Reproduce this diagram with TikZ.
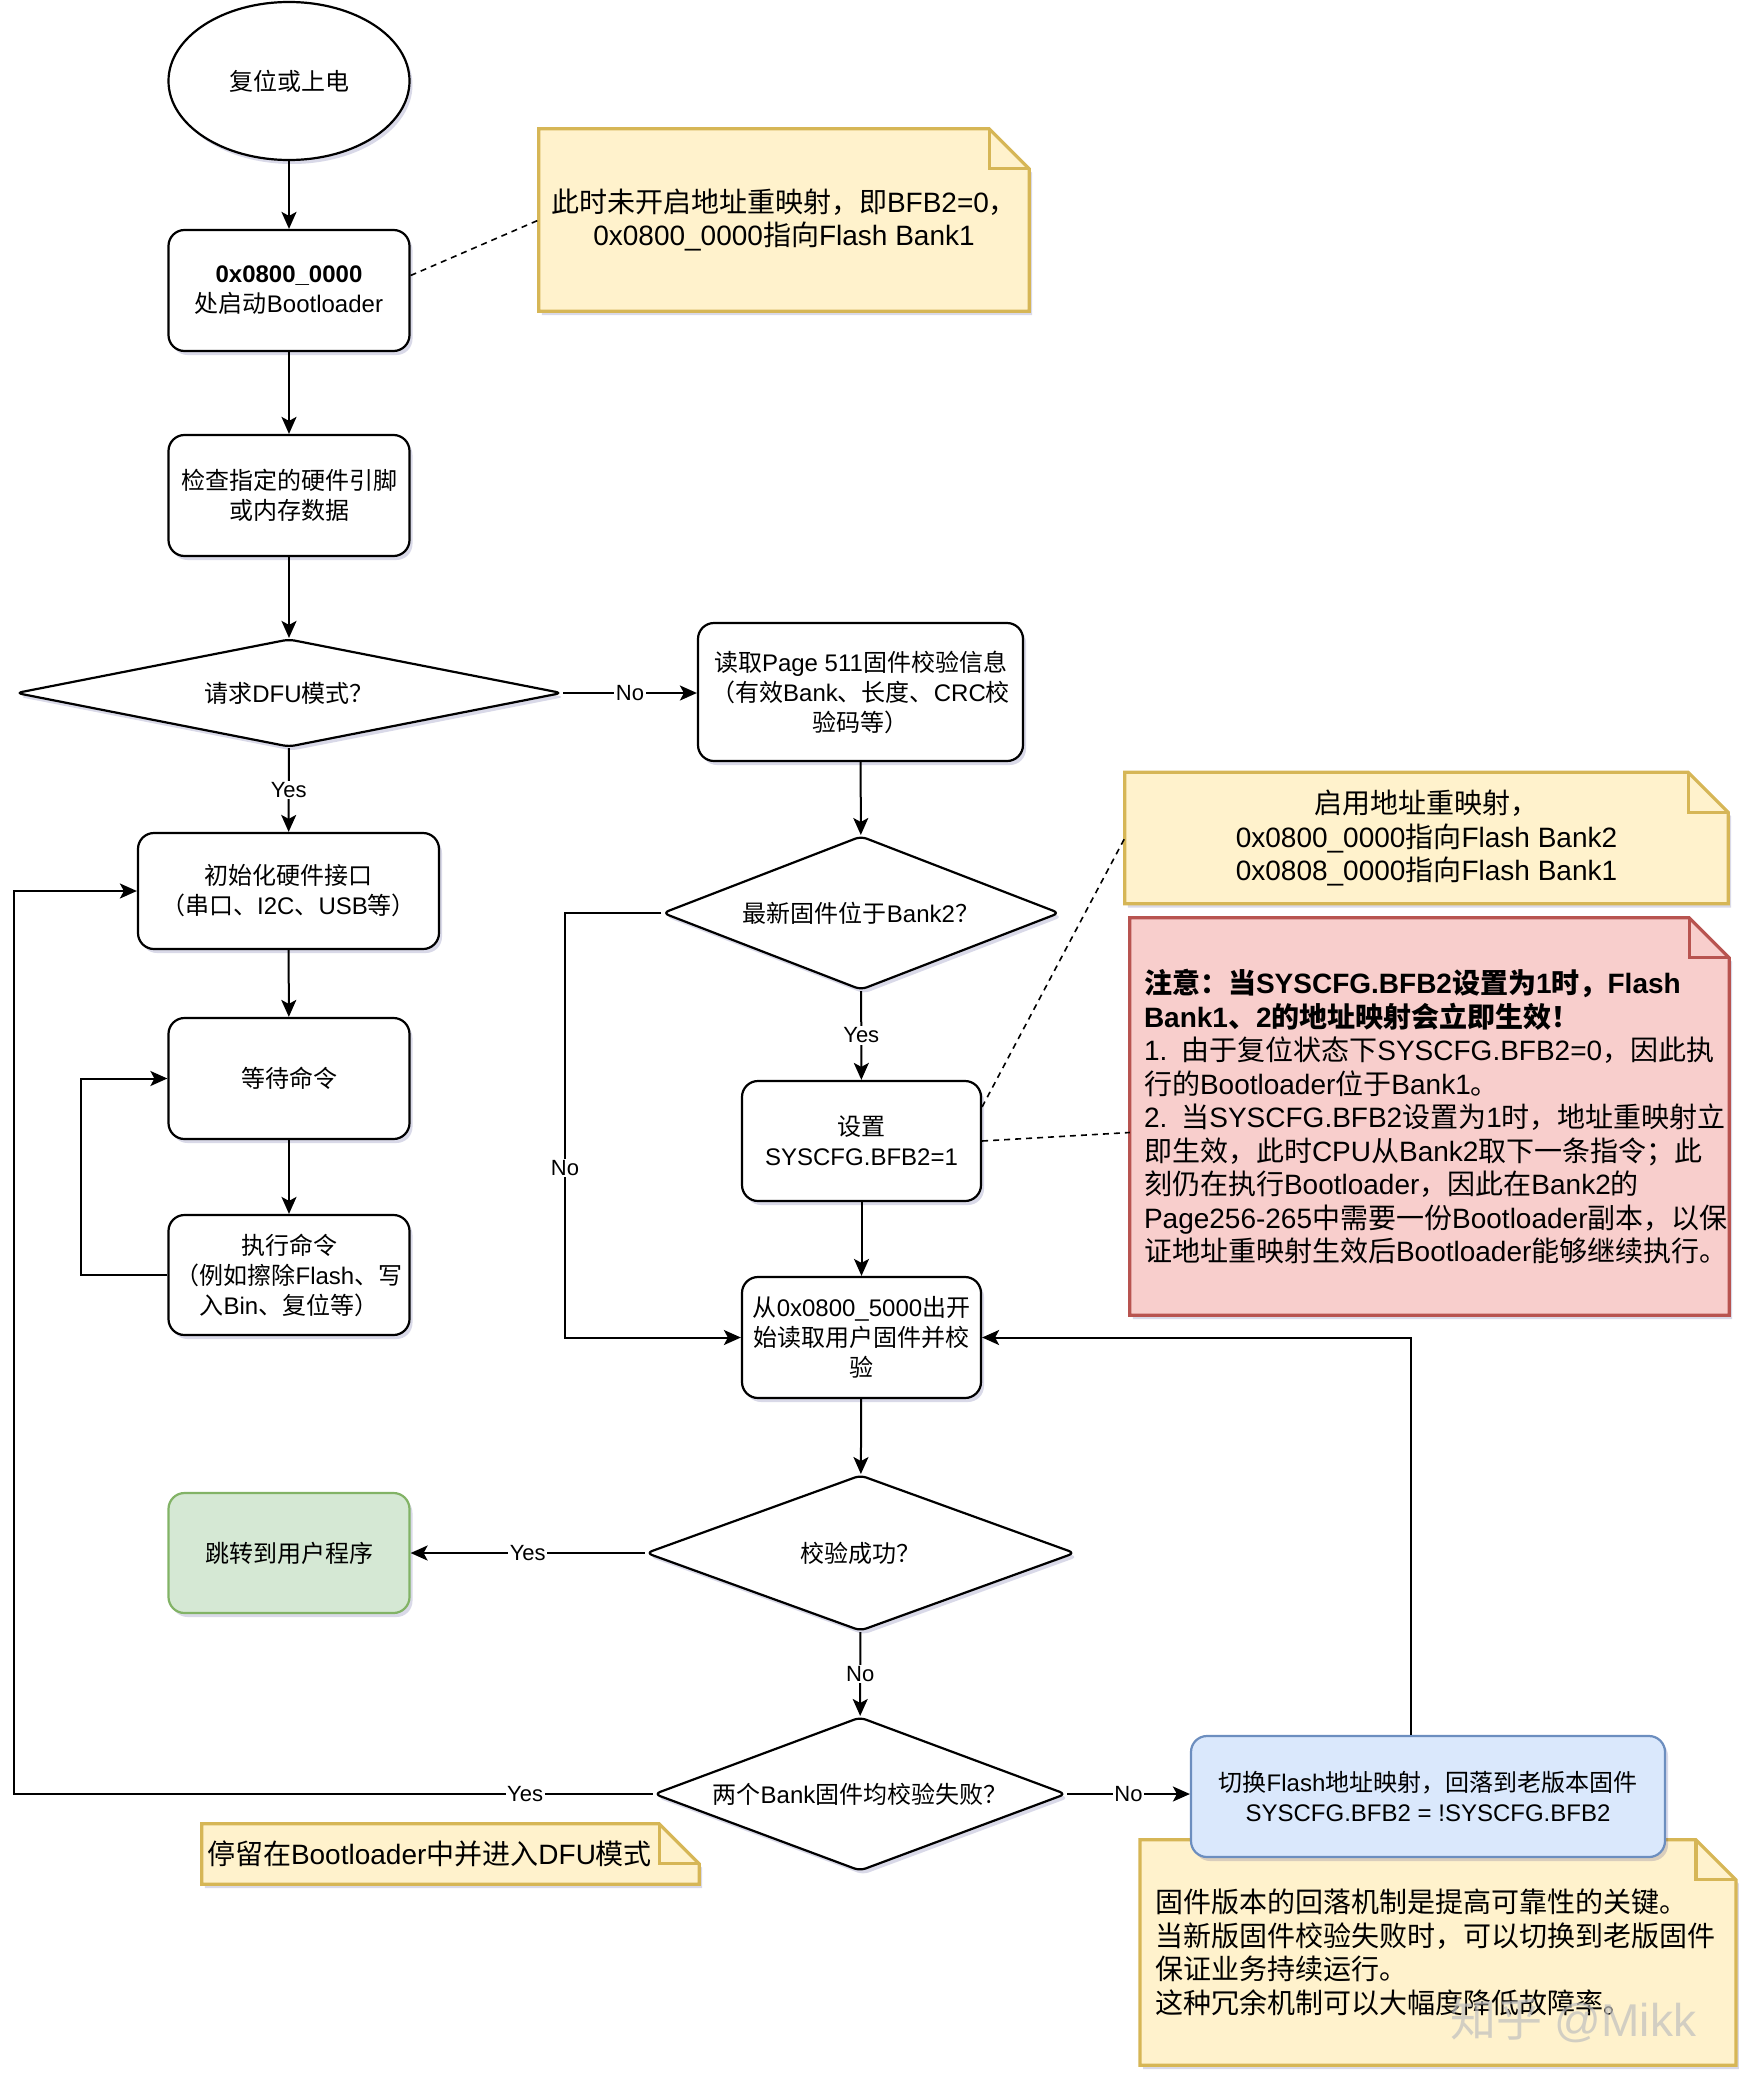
\documentclass[tikz,border=0pt]{standalone}
\usepackage{fontspec}
\setmainfont{Liberation Sans}
\newfontfamily\cjk{Noto Sans CJK SC}
\newfontfamily\lat{Liberation Sans}
\XeTeXinterchartokenstate=1
\newXeTeXintercharclass\CJKcls
\newcount\cjkcnt
\def\setcjkrange#1#2{\cjkcnt=#1\relax\loop\XeTeXcharclass\cjkcnt=\CJKcls\relax\ifnum\cjkcnt<#2\advance\cjkcnt by 1\repeat}
\setcjkrange{"3000}{"303F}
\setcjkrange{"4E00}{"9FFF}
\setcjkrange{"FF00}{"FFEF}
\XeTeXinterchartoks 0 \CJKcls = {\cjk}
\XeTeXinterchartoks 4095 \CJKcls = {\cjk}
\XeTeXinterchartoks \CJKcls 0 = {\lat}
\XeTeXinterchartoks \CJKcls 4095 = {\lat}
\usetikzlibrary{shapes.geometric,arrows.meta,calc,backgrounds,shadows}
\definecolor{noteY}{HTML}{FFF2CC}
\definecolor{noteYs}{HTML}{D6B656}
\definecolor{noteR}{HTML}{F8CECC}
\definecolor{noteRs}{HTML}{B85450}
\definecolor{boxG}{HTML}{D5E8D4}
\definecolor{boxGs}{HTML}{82B366}
\definecolor{boxB}{HTML}{DAE8FC}
\definecolor{boxBs}{HTML}{6C8EBF}
\tikzset{
  shad/.style={drop shadow={shadow xshift=3pt, shadow yshift=-4pt, fill=black!60!blue, opacity=0.15}},
  base/.style={draw=black, line width=2.2pt, fill=white, align=center,
    font=\fontsize{24}{30}\selectfont, inner sep=0pt, shad},
  box/.style={base, rectangle, rounded corners=16pt},
  dec/.style={base, diamond, rounded corners=6pt},
  conn/.style={line width=2pt, -{Stealth[length=17pt,width=15pt,inset=4pt]}},
  lbl/.style={fill=white, font=\fontsize{22}{24}\selectfont, inner sep=1.5pt},
  dsh/.style={line width=1.6pt, dash pattern=on 6pt off 5pt},
  notetxt/.style={font=\fontsize{28}{33.5}\selectfont, inner sep=0pt},
}
\newcommand\notefold[3]{%
  \draw[line width=3.2pt, draw=#3, fill=#2, line join=miter, shad]
    (#1.north west) -- ($(#1.north east)+(-40,0)$) -- ($(#1.north east)+(0,40)$)
    -- (#1.south east) -- (#1.south west) -- cycle;
  \draw[line width=3.2pt, draw=#3, line join=miter]
    ($(#1.north east)+(-40,0)$) -- ($(#1.north east)+(-40,40)$) -- ($(#1.north east)+(0,40)$);
}
\begin{document}
\begin{tikzpicture}[x=1pt,y=-1pt]
\useasboundingbox (0,0) rectangle (1762,2090);

% left column
\node[base, ellipse, minimum width=241pt, minimum height=158pt] (start) at (289,81) {复位或上电};
\node[box, minimum width=241pt, minimum height=121pt] (b1) at (289,290.5) {\textbf{0x0800\_0000}\\处启动Bootloader};
\node[box, minimum width=241pt, minimum height=121pt] (b2) at (289,495.5) {检查指定的硬件引脚\\或内存数据};
\node[dec, aspect=5.05, minimum width=546pt, minimum height=108pt] (d1) at (289,693) {请求DFU模式？};
\node[box, minimum width=301pt, minimum height=116pt] (init) at (288.5,891) {初始化硬件接口\\（串口、I2C、USB等）};
\node[box, minimum width=241pt, minimum height=121pt] (wait) at (289,1078.5) {等待命令};
\node[box, minimum width=241pt, minimum height=120pt] (exec) at (289,1275) {执行命令\\（例如擦除Flash、写\\入Bin、复位等）};
\node[box, fill=boxG, draw=boxGs, minimum width=241pt, minimum height=120pt] (jump) at (289,1553) {跳转到用户程序};

% middle column
\node[box, minimum width=325pt, minimum height=138pt] (rd) at (860.5,692) {读取Page 511固件校验信息\\（有效Bank、长度、CRC校\\验码等）};
\node[dec, aspect=2.58, minimum width=397pt, minimum height=154pt] (d2) at (861,913) {最新固件位于Bank2？};
\node[box, minimum width=239pt, minimum height=120pt] (setb) at (861.5,1141) {设置\\SYSCFG.BFB2=1};
\node[box, minimum width=239pt, minimum height=121pt] (verify) at (861.5,1337.5) {从0x0800\_5000出开\\始读取用户固件并校\\验};
\node[dec, aspect=2.75, minimum width=429pt, minimum height=156pt] (d3) at (860.5,1553) {校验成功？};
\node[dec, aspect=2.68, minimum width=412pt, minimum height=154pt] (d4) at (860,1794) {两个Bank固件均校验失败？};

% notes
\node[notetxt, minimum width=490pt, minimum height=182pt, align=center] (n1) at (784,220)
  {此时未开启地址重映射，即BFB2=0，\\0x0800\_0000指向Flash Bank1};
\node[notetxt, minimum width=603pt, minimum height=131pt, align=center] (n2) at (1426.5,838)
  {启用地址重映射，\\0x0800\_0000指向Flash Bank2\\0x0808\_0000指向Flash Bank1};
\node[notetxt, minimum width=599pt, minimum height=397pt, text width=571pt, align=left] (n3) at (1429.5,1116.5)
  {\textbf{\mbox{注意：当SYSCFG.BFB2设置为1时，Flash}}\\
   \textbf{\mbox{Bank1、2的地址映射会立即生效！}}\\
   \mbox{1. 由于复位状态下SYSCFG.BFB2=0，因此执}\\
   \mbox{行的Bootloader位于Bank1。}\\
   \mbox{2. 当SYSCFG.BFB2设置为1时，地址重映射立}\\
   \mbox{即生效，此时CPU从Bank2取下一条指令；此}\\
   \mbox{刻仍在执行Bootloader，因此在Bank2的}\\
   \mbox{Page256-265中需要一份Bootloader副本，以保}\\
   \mbox{证地址重映射生效后Bootloader能够继续执行。}};
\node[notetxt, minimum width=497pt, minimum height=60pt, text width=487pt, align=left] (n4) at (450.5,1854)
  {\mbox{停留在Bootloader中并进入DFU模式}};
\node[notetxt, minimum width=595.5pt, minimum height=225pt, text width=565pt, align=left] (n5) at (1438,1952.5)
  {\mbox{固件版本的回落机制是提高可靠性的关键。}\\
   \mbox{当新版固件校验失败时，可以切换到老版固件}\\
   \mbox{保证业务持续运行。}\\
   \mbox{这种冗余机制可以大幅度降低故障率。}};

\begin{scope}[on background layer]
  \notefold{n1}{noteY}{noteYs}
  \notefold{n2}{noteY}{noteYs}
  \notefold{n3}{noteR}{noteRs}
  \notefold{n4}{noteY}{noteYs}
  \notefold{n5}{noteY}{noteYs}
\end{scope}

% switch box (on top of bottom note)
\node[box, fill=boxB, draw=boxBs, minimum width=474pt, minimum height=121pt] (sw) at (1428,1796.5)
  {切换Flash地址映射，回落到老版本固件\\SYSCFG.BFB2 = !SYSCFG.BFB2};

% connectors
\coordinate (nl) at (565,913);
\coordinate (oc) at (14,1300);
\draw[conn] (start) -- (b1);
\draw[conn] (b1) -- (b2);
\draw[conn] (b2) -- (d1);
\draw[conn] (d1.east) -- node[lbl]{No} (d1.east -| rd.west);
\draw[conn] (d1) -- node[lbl]{Yes} (init);
\draw[conn] (init) -- (wait);
\draw[conn] (wait) -- (exec);
\draw[conn] (exec.west) -- ++(-86,0) |- (wait.west);
\draw[conn] (rd) -- (d2);
\draw[conn] (d2) -- node[lbl]{Yes} (setb);
\draw[conn] (setb) -- (verify);
\draw[conn] (d2.west) -- (nl) |- node[lbl,pos=0.3]{No} (verify.west);
\draw[conn] (verify) -- (d3);
\draw[conn] (d3.west) -- node[lbl]{Yes} (jump.east);
\draw[conn] (d3) -- node[lbl]{No} (d4);
\draw[conn] (d4.west) -- node[lbl,pos=0.2]{Yes} (d4.west -| oc) |- (init.west);
\draw[conn] (d4.east) -- node[lbl]{No} (d4.east -| sw.west);
\draw[conn] ($(sw.north)+(-17,0)$) |- (verify.east);

% dashed note links
\draw[dsh] ($(b1.east)+(0,-15)$) -- (n1.west);
\draw[dsh] ($(setb.north east)+(0,27)$) -- (n2.west);
\draw[dsh] (setb.east) -- ($(n3.west)+(0,16)$);

% watermark
\node[font=\fontsize{46}{46}\selectfont, text=black!25, opacity=0.7] (wm) at (1573,2020) {知乎 @Mikk};
\end{tikzpicture}
\end{document}
